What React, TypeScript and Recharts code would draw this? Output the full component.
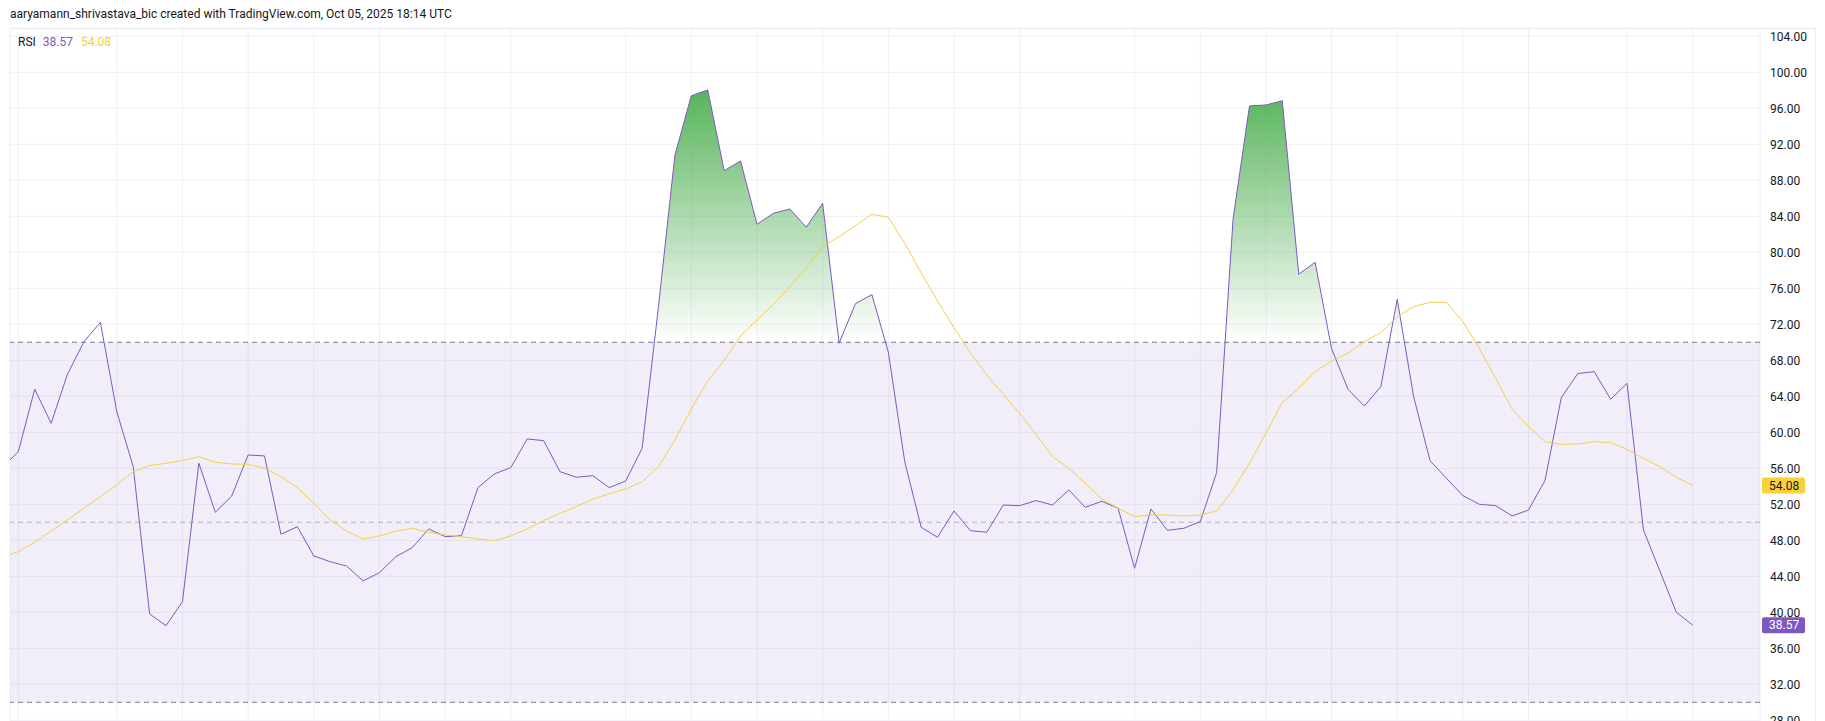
import React from 'react';
import { ComposedChart, Line, Area, XAxis, YAxis, CartesianGrid, ReferenceArea, ReferenceLine } from 'recharts';

// bar index of the first value (one bar sits just off the left edge)
const firstBar = -1;

const rsiValues = [
  56.05, 57.84, 64.78, 61.0, 66.48, 70.07, 72.22, 62.29, 56.18, 39.81, 38.51,
  41.18, 56.56, 51.11, 52.92, 57.48, 57.37, 48.67, 49.51, 46.26, 45.62,
  45.14, 43.48, 44.4, 46.18, 47.18, 49.26, 48.4, 48.51, 53.85, 55.37,
  56.07, 59.26, 59.07, 55.62, 55.0, 55.18, 53.85, 54.59, 58.22, 74.0,
  90.81, 97.4, 98.03, 89.07, 90.14, 83.11, 84.33, 84.81, 82.78, 85.44,
  69.9, 74.3, 75.29, 68.9, 56.73, 49.44, 48.33, 51.26, 49.07, 48.89,
  51.92, 51.85, 52.41, 51.92, 53.59, 51.66, 52.33, 51.56, 44.89, 51.48,
  49.11, 49.33, 50.07, 55.52, 83.67, 96.26, 96.37, 96.84, 77.56, 78.89,
  69.3, 64.78, 62.92, 65.07, 74.78, 63.96, 56.84, 54.89, 52.96, 52.0,
  51.85, 50.7, 51.37, 54.63, 63.87, 66.52, 66.74, 63.67, 65.44, 49.14,
  44.59, 40.0, 38.57,
];

const maValues = [
  46.2, 46.73, 47.78, 49.03, 50.26, 51.56, 52.85, 54.14, 55.63, 56.3, 56.56,
  56.85, 57.29, 56.67, 56.48, 56.44, 56.0, 55.07, 53.85, 52.11, 50.26,
  49.03, 48.14, 48.48, 49.0, 49.33, 48.89, 48.59, 48.4, 48.14, 47.96,
  48.48, 49.26, 50.19, 51.0, 51.74, 52.59, 53.15, 53.7, 54.52, 56.18,
  59.14, 62.6, 65.7, 68.0, 70.7, 72.48, 74.22, 76.18, 78.29, 80.62,
  81.73, 82.96, 84.22, 83.89, 81.0, 77.7, 74.6, 71.6, 68.8, 66.37,
  64.22, 62.1, 59.78, 57.29, 56.0, 54.33, 52.59, 51.56, 50.63, 50.81,
  50.81, 50.7, 50.81, 51.26, 53.59, 56.56, 59.89, 63.3, 64.89, 66.74,
  67.92, 68.78, 70.07, 71.07, 72.85, 73.96, 74.44, 74.44, 72.29, 69.33,
  66.0, 62.56, 60.63, 58.96, 58.65, 58.7, 58.96, 58.85, 58.11, 57.11,
  56.18, 55.0, 54.08,
];

// bars where the time grid draws a vertical line
const gridBars = [0, 6, 10, 14, 18, 22, 26, 30, 37, 41, 45, 49, 53, 57, 61, 68, 72, 76, 80, 84, 88, 92, 98, 102];

const yTicks = [28, 32, 36, 40, 44, 48, 52, 56, 60, 64, 68, 72, 76, 80, 84, 88, 92, 96, 100, 104];

const upperBand = 70;
const middleBand = 50;
const lowerBand = 30;

const headerText = 'aaryamann_shrivastava_bic created with TradingView.com, Oct 05, 2025 18:14 UTC';

const FONT = 'Roboto, "Liberation Sans", sans-serif';
const RSI_COLOR = '#7E57C2';
const MA_COLOR = '#F5CE45';
const BADGE_YELLOW = '#FBD13A';

const chartData = rsiValues.map((rsi, i) => ({ bar: firstBar + i, rsi, ma: maValues[i] }));

const lastRsi = rsiValues[rsiValues.length - 1];
const lastMa = maValues[maValues.length - 1];

// gradient for the overbought fill: full green at 100, gone at 70
const rsiMax = Math.max(...rsiValues);
const rsiMin = Math.min(...rsiValues);
const fadeAt = (rsiMax - upperBand) / (rsiMax - rsiMin);
const topOpacity = (rsiMax - upperBand) / (100 - upperBand);

function Badge(props: any) {
  const { viewBox, value, bg, color } = props;
  if (!viewBox) return null;
  const right = viewBox.x + viewBox.width;
  return (
    <g>
      <rect x={right + 2} y={viewBox.y - 8} width={43} height={16} rx={2} fill={bg} />
      <text x={right + 9} y={viewBox.y} dy="0.36em" fontSize={12} fill={color} fontFamily={FONT}>
        {value.toFixed(2)}
      </text>
    </g>
  );
}

export default function App() {
  return (
    <div
      style={{
        position: 'absolute',
        left: 0,
        top: 0,
        width: 1825,
        height: 721,
        overflow: 'hidden',
        background: '#ffffff',
        fontFamily: FONT,
      }}
    >
      <div style={{ position: 'absolute', left: 10, top: 28, width: 1805, height: 700, borderTop: '1px solid #e6e8ef', borderRight: '1px solid #eceef3' }} />
      <ComposedChart
        width={1825}
        height={721}
        data={chartData}
        margin={{ top: 28, right: 10, bottom: 0, left: 10 }}
        style={{ position: 'absolute', left: 0, top: 0 }}
      >
        <defs>
          <linearGradient id="overbought" x1="0" y1="0" x2="0" y2="1">
            <stop offset={0} stopColor="#4CAF50" stopOpacity={topOpacity} />
            <stop offset={fadeAt} stopColor="#4CAF50" stopOpacity={0} />
            <stop offset={1} stopColor="#4CAF50" stopOpacity={0} />
          </linearGradient>
        </defs>
        <CartesianGrid stroke="#eef0f5" strokeWidth={1} />
        <XAxis dataKey="bar" type="number" domain={[-0.506, 106.1]} ticks={gridBars} allowDataOverflow hide />
        <YAxis
          orientation="right"
          type="number"
          domain={[27.92, 104.92]}
          ticks={yTicks}
          interval={0}
          allowDataOverflow
          width={55}
          axisLine={false}
          tickLine={false}
          tickSize={0}
          tickMargin={10}
          tickFormatter={(v: number) => v.toFixed(2)}
          tick={{ fontSize: 12, fill: '#131722', fontFamily: FONT }}
        />
        <ReferenceArea y1={lowerBand} y2={upperBand} fill={RSI_COLOR} fillOpacity={0.1} stroke="none" />
        <ReferenceLine y={upperBand} stroke="#787B86" strokeDasharray="5 4" />
        <ReferenceLine y={middleBand} stroke="rgba(120,123,134,0.5)" strokeDasharray="5 4" />
        <ReferenceLine y={lowerBand} stroke="#787B86" strokeDasharray="5 4" />
        <Area
          dataKey="rsi"
          type="linear"
          baseValue={upperBand}
          stroke="none"
          fill="url(#overbought)"
          fillOpacity={1}
          isAnimationActive={false}
          activeDot={false}
        />
        <Line dataKey="rsi" type="linear" stroke={RSI_COLOR} strokeWidth={1} dot={false} activeDot={false} isAnimationActive={false} />
        <Line dataKey="ma" type="linear" stroke={MA_COLOR} strokeWidth={1} dot={false} activeDot={false} isAnimationActive={false} />
        <ReferenceLine
          y={lastMa}
          stroke="none"
          label={{ content: (p: any) => <Badge {...p} value={lastMa} bg={BADGE_YELLOW} color="#131722" /> }}
        />
        <ReferenceLine
          y={lastRsi}
          stroke="none"
          label={{ content: (p: any) => <Badge {...p} value={lastRsi} bg={RSI_COLOR} color="#ffffff" /> }}
        />
      </ComposedChart>
      <div style={{ position: 'absolute', left: 10, top: 7, fontSize: 12, color: '#131722', whiteSpace: 'nowrap' }}>
        {headerText}
      </div>
      <div style={{ position: 'absolute', left: 18, top: 35, fontSize: 12, color: '#131722', whiteSpace: 'nowrap' }}>
        RSI{' '}
        <span style={{ color: RSI_COLOR, marginLeft: 4 }}>{lastRsi.toFixed(2)}</span>
        <span style={{ color: MA_COLOR, marginLeft: 8 }}>{lastMa.toFixed(2)}</span>
      </div>
    </div>
  );
}
